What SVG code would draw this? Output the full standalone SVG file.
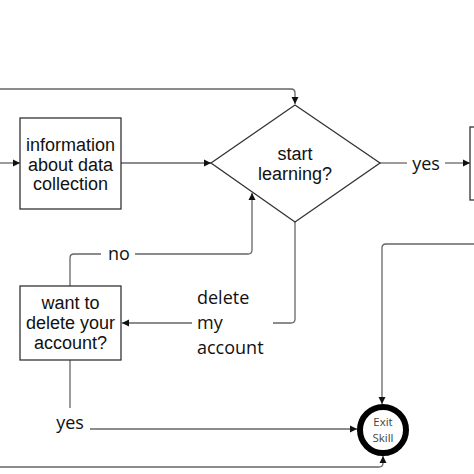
<svg xmlns="http://www.w3.org/2000/svg" width="474" height="474" viewBox="0 0 474 474">
<defs>
<marker id="ah" markerWidth="8" markerHeight="8" refX="7" refY="4" orient="auto" markerUnits="userSpaceOnUse">
<path d="M0,0.5 L7,4 L0,7.5 Z" fill="#111"/>
</marker>
<style>
.c{fill:none;stroke:#666;stroke-width:1.3}
.n{fill:#fff;stroke:#333;stroke-width:1.3}
.t{font-family:"Liberation Sans",Arial,sans-serif;font-size:18px;fill:#111;text-anchor:middle}
.l{font-family:"Open Sans","Noto Sans",sans-serif;font-size:18px;fill:#111}
</style>
</defs>
<rect width="474" height="474" fill="#fff"/>
<g id="connectors">
<path class="c" d="M0,89 H291 Q295,89 295,93 V104" marker-end="url(#ah)"/>
<path class="c" d="M0,163 H20" marker-end="url(#ah)"/>
<path class="c" d="M121,163 H211" marker-end="url(#ah)"/>
<path class="c" d="M380,163 H407"/>
<path class="c" d="M445,163 H470" marker-end="url(#ah)"/>
<path class="c" d="M474,244 H386 Q382,244 382,248 V404" marker-end="url(#ah)"/>
<path class="c" d="M295,222 V319 Q295,323 291,323 H273"/>
<path class="c" d="M192,323 H122" marker-end="url(#ah)"/>
<path class="c" d="M70,286 V258 Q70,254 74,254 H101"/>
<path class="c" d="M135,254 H248 Q252,254 252,250 V193" marker-end="url(#ah)"/>
<path class="c" d="M70,360 V408"/>
<path class="c" d="M90,429 H357" marker-end="url(#ah)"/>
<path class="c" d="M0,467 H379 Q383,467 383,463 V456" marker-end="url(#ah)"/>
</g>
<g id="info">
<rect class="n" x="20" y="118" width="101" height="91"/>
<text class="t" x="70.5" y="150.5">information</text>
<text class="t" x="70.5" y="170.5">about data</text>
<text class="t" x="70.5" y="190">collection</text>
</g>
<g id="start">
<polygon class="n" points="211,163 295,105 380,163 295,222"/>
<text class="t" x="295" y="160">start</text>
<text class="t" x="295" y="180">learning?</text>
</g>
<g id="right-box">
<rect class="n" x="470" y="127" width="10" height="73"/>
</g>
<g id="delete">
<rect class="n" x="20" y="286" width="101" height="74"/>
<text class="t" x="70.5" y="309">want to</text>
<text class="t" x="70.5" y="329">delete your</text>
<text class="t" x="70.5" y="349">account?</text>
</g>
<g id="exit">
<circle cx="383" cy="430" r="23" fill="#fff" stroke="#000" stroke-width="6"/>
<text x="383" y="426" font-family="'Open Sans','Noto Sans',sans-serif" font-size="11.5" fill="#444" text-anchor="middle">Exit</text>
<text x="383" y="442" font-family="'Open Sans','Noto Sans',sans-serif" font-size="11.5" fill="#444" text-anchor="middle">Skill</text>
</g>
<g id="labels">
<text class="l" x="426" y="170" text-anchor="middle">yes</text>
<text class="l" x="119" y="260" text-anchor="middle">no</text>
<text class="l" x="197" y="304">delete</text>
<text class="l" x="197" y="329">my</text>
<text class="l" x="197" y="354">account</text>
<text class="l" x="70" y="429" text-anchor="middle">yes</text>
</g>
</svg>
